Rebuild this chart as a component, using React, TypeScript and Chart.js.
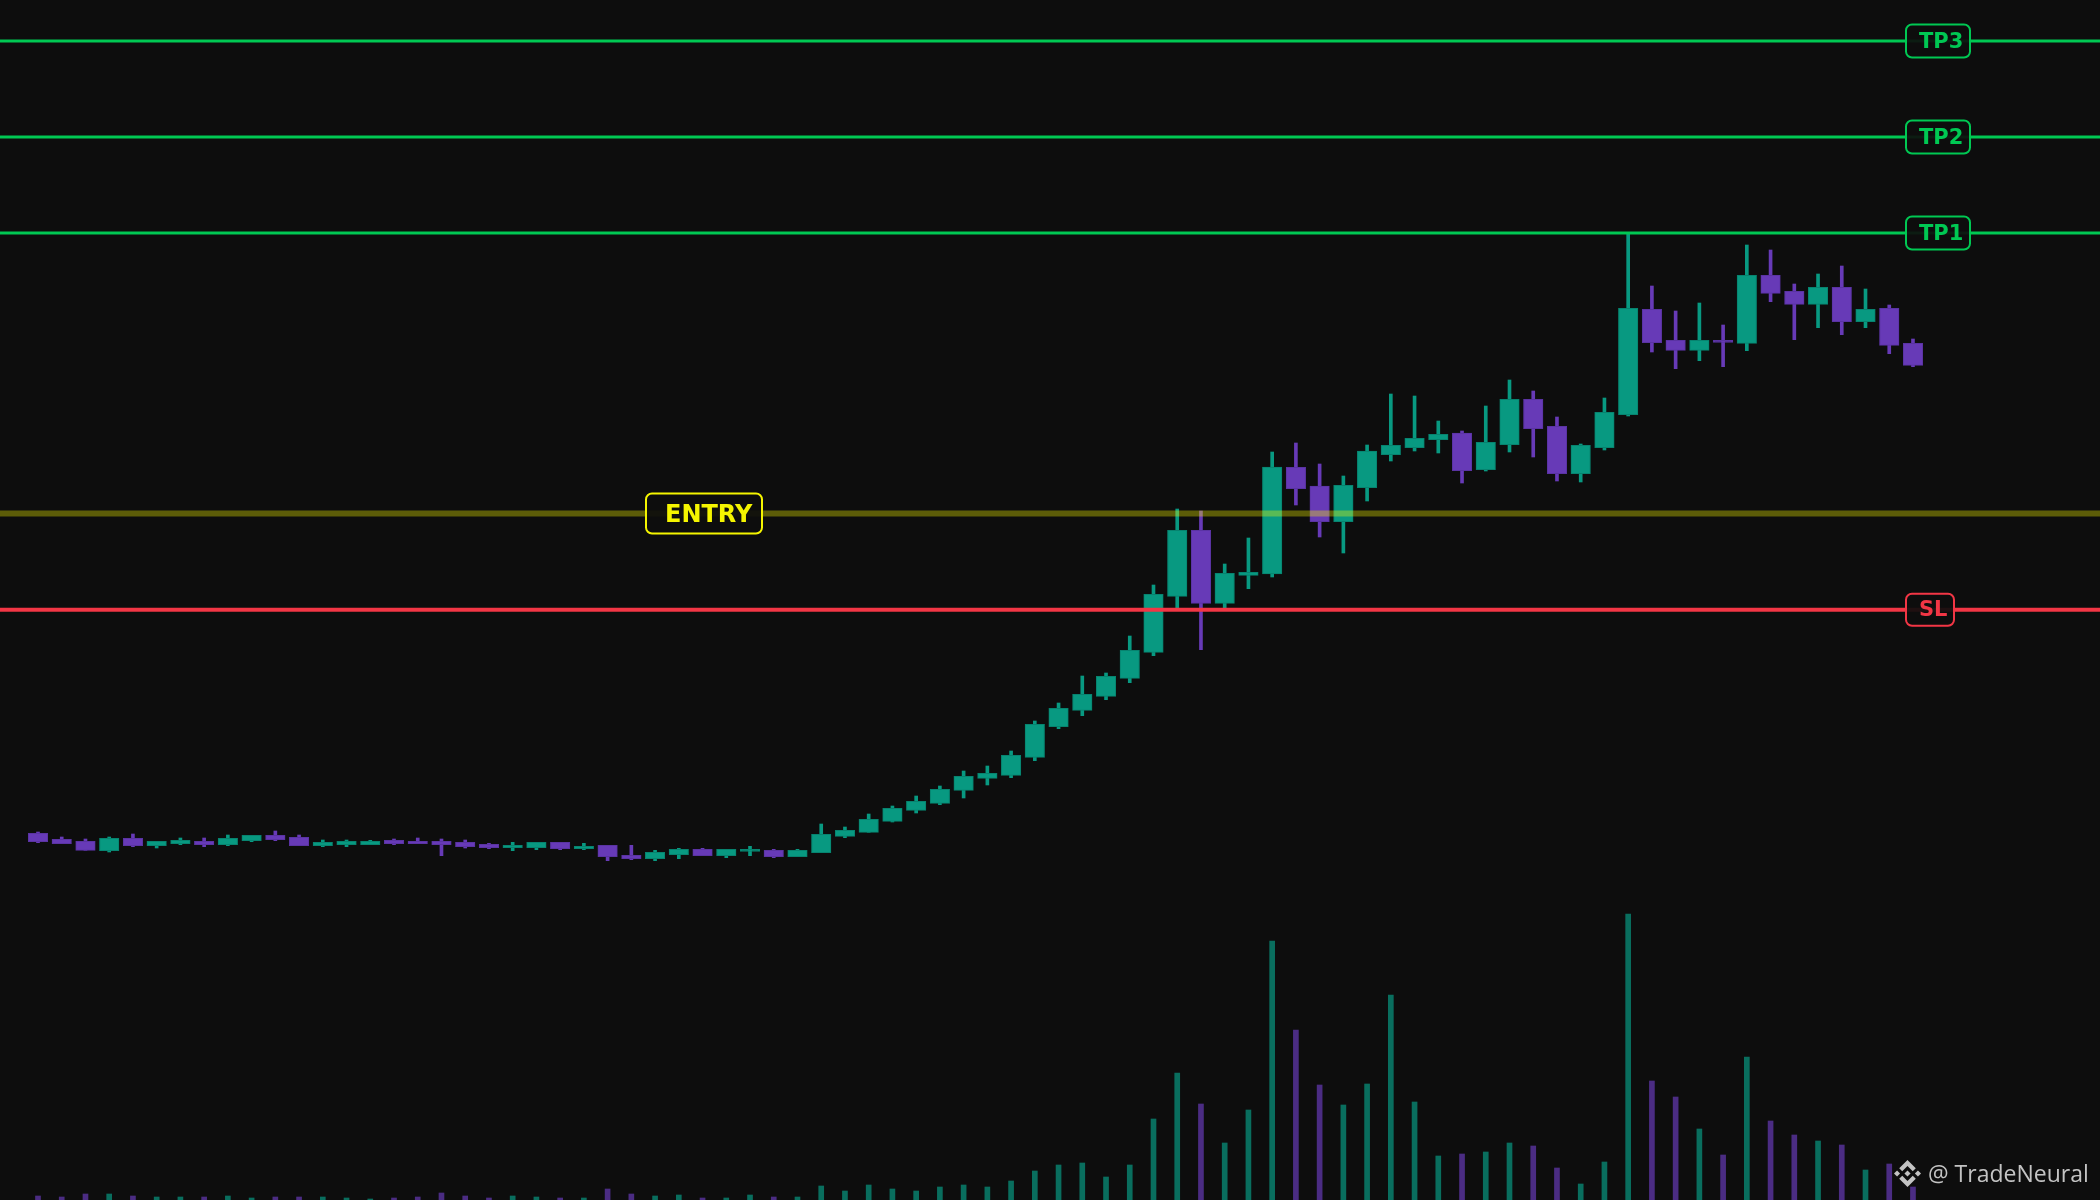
import React, { useEffect, useRef } from 'react';
import { Chart, registerables } from 'chart.js';

Chart.register(...registerables);

// candles (oldest first)
const opens = [
  36.67, 36.07, 35.87, 34.93, 36.17, 35.43, 35.63, 35.87, 35.53, 35.93,
  36.47, 36.27, 35.43, 35.53, 35.53, 35.97, 35.87, 35.87, 35.77, 35.57,
  35.23, 35.23, 35.77, 35.13, 35.47, 34.47, 34.13, 34.53, 35.07, 34.43,
  34.87, 34.97, 34.33, 34.73, 36.37, 36.77, 37.87, 38.97, 39.67, 40.97,
  42.17, 42.47, 44.27, 47.33, 48.97, 50.37, 52.17, 54.77, 60.37, 66.97,
  59.67, 62.47, 62.6, 73.27, 71.4, 67.83, 71.23, 74.53, 75.23, 76.03,
  76.7, 73.03, 75.53, 80.07, 77.37, 72.63, 75.23, 78.53, 89.07, 85.97,
  84.97, 85.97, 85.67, 92.47, 90.87, 89.57, 91.27, 87.83, 89.17, 85.67,
];
const highs = [
  36.8, 36.3, 36.1, 36.3, 36.6, 35.87, 36.2, 36.2, 36.5, 36.47,
  36.9, 36.5, 36.0, 36.0, 35.97, 36.1, 36.2, 36.1, 36.0, 35.67,
  35.77, 35.77, 35.77, 35.67, 35.47, 35.47, 34.97, 35.17, 35.17, 35.07,
  35.37, 35.07, 35.07, 37.6, 37.3, 38.6, 39.4, 40.4, 41.4, 42.9,
  43.4, 44.9, 47.9, 49.7, 52.4, 52.7, 56.4, 61.5, 69.1, 68.9,
  63.6, 66.2, 74.8, 75.7, 73.6, 72.4, 75.5, 80.6, 80.4, 77.9,
  76.9, 79.4, 82.0, 80.9, 78.3, 75.6, 80.2, 96.77, 91.4, 88.9,
  89.7, 87.5, 95.5, 95.0, 91.6, 92.6, 93.4, 91.1, 89.5, 86.1,
];
const lows = [
  35.73, 35.63, 34.97, 34.8, 35.33, 35.2, 35.53, 35.33, 35.43, 35.83,
  35.93, 35.43, 35.33, 35.33, 35.53, 35.53, 35.63, 34.43, 35.2, 35.13,
  34.93, 35.03, 35.03, 35.03, 33.93, 34.03, 33.93, 34.13, 34.43, 34.23,
  34.43, 34.23, 34.33, 34.73, 36.23, 36.77, 37.8, 38.7, 39.53, 40.2,
  41.5, 42.23, 43.93, 47.13, 48.43, 50.03, 51.73, 54.43, 59.23, 55.03,
  59.23, 61.13, 62.3, 69.5, 66.3, 64.7, 69.9, 73.9, 74.9, 74.7,
  71.7, 72.9, 74.8, 74.3, 71.9, 71.8, 75.0, 78.4, 84.8, 83.13,
  83.93, 83.33, 84.93, 89.83, 86.03, 87.23, 86.53, 87.23, 84.63, 83.33,
];
const closes = [
  35.83, 35.63, 34.97, 36.17, 35.43, 35.87, 35.97, 35.53, 36.17, 36.47,
  36.03, 35.43, 35.77, 35.87, 35.87, 35.63, 35.63, 35.53, 35.33, 35.23,
  35.47, 35.77, 35.13, 35.37, 34.33, 34.13, 34.77, 35.07, 34.43, 35.07,
  35.07, 34.33, 34.97, 36.57, 36.97, 38.07, 39.17, 39.87, 41.07, 42.37,
  42.67, 44.47, 47.57, 49.17, 50.57, 52.37, 54.97, 60.57, 66.97, 59.67,
  62.67, 62.77, 73.3, 71.13, 67.83, 71.47, 74.9, 75.47, 76.17, 76.57,
  72.93, 75.77, 80.07, 77.13, 72.63, 75.47, 78.77, 89.17, 85.73, 84.97,
  85.97, 85.77, 92.47, 90.67, 89.57, 91.27, 87.83, 89.07, 85.47, 83.47,
];
const volumes = [
  4, 3, 6, 6, 4, 3, 3, 3, 4, 2,
  3, 3, 3, 2, 1, 2, 3, 7, 4, 2,
  4, 3, 2, 2, 11, 6, 4, 5, 2, 2,
  5, 3, 3, 14, 9, 15, 11, 9, 13, 15,
  13, 19, 29, 35, 37, 23, 35, 81, 127, 96,
  57, 90, 259, 170, 115, 95, 116, 205, 98, 44,
  46, 48, 57, 54, 32, 16, 38, 286, 119, 103,
  71, 45, 143, 79, 65, 59, 55, 30, 36, 13,
];

// trade levels
const levelNames = ['TP3', 'TP2', 'TP1', 'ENTRY', 'SL'];
const levelPrices = [115.9, 106.3, 96.7, 68.65, 59.03];

const BG = '#0d0d0d';
const UP = '#089981';
const DOWN = '#673ab7';
const GREEN = '#00c853';
const YELLOW = '#f5f500';
const RED = '#f23645';

const levelPlugin = {
  id: 'levels',
  beforeDraw(chart: any) {
    const { ctx, width, height } = chart;
    ctx.save();
    ctx.fillStyle = BG;
    ctx.fillRect(0, 0, width, height);
    ctx.restore();
  },
  afterDatasetsDraw(chart: any) {
    const { ctx, chartArea, scales } = chart;
    const y = scales.y;
    ctx.save();
    levelNames.forEach((name, i) => {
      const py = y.getPixelForValue(levelPrices[i]);
      let color = GREEN;
      let lw = 3;
      if (name === 'ENTRY') {
        color = 'rgba(255,255,0,0.33)';
        lw = 6;
      } else if (name === 'SL') {
        color = RED;
        lw = 4;
      }
      ctx.strokeStyle = color;
      ctx.lineWidth = lw;
      ctx.beginPath();
      ctx.moveTo(chartArea.left, py);
      ctx.lineTo(chartArea.right, py);
      ctx.stroke();
    });

    levelNames.forEach((name, i) => {
      const py = y.getPixelForValue(levelPrices[i]);
      let bx = 1906, bw = 64, bh = 33, pad = 13, font = 'bold 21px "DejaVu Sans"', col = GREEN, base = 6.5;
      if (name === 'SL') {
        bw = 48;
        bh = 32;
        col = RED;
      } else if (name === 'ENTRY') {
        bx = 646;
        bw = 116;
        bh = 40;
        pad = 19;
        font = 'bold 24px "DejaVu Sans"';
        col = YELLOW;
        base = 8;
      }
      ctx.beginPath();
      ctx.roundRect(bx, py - bh / 2, bw, bh, 6);
      ctx.fillStyle = 'rgba(13,13,13,0.92)';
      ctx.fill();
      ctx.lineWidth = 2;
      ctx.strokeStyle = col;
      ctx.stroke();
      ctx.fillStyle = col;
      ctx.font = font;
      ctx.textAlign = 'left';
      ctx.textBaseline = 'alphabetic';
      ctx.fillText(name, bx + pad, py + base);
    });
    ctx.restore();
  },
  afterDraw(chart: any) {
    const { ctx } = chart;
    ctx.save();
    // binance-style mark
    const s = 27 / 126.61;
    const ox = 1894;
    const oy = 1160;
    const shapes = [
      [38.73, 53.2, 63.3, 28.64, 87.89, 53.22, 102.19, 38.92, 63.3, 0, 24.43, 38.9],
      [0, 63.31, 14.3, 49.01, 28.6, 63.31, 14.3, 77.61],
      [48.99, 63.31, 63.31, 48.99, 77.62, 63.31, 63.31, 77.62],
      [98.01, 63.31, 112.31, 49.01, 126.61, 63.31, 112.31, 77.61],
      [87.89, 73.39, 63.3, 97.97, 38.73, 73.4, 24.41, 87.68, 63.3, 126.61, 102.19, 87.7],
    ];
    ctx.fillStyle = 'rgba(215,215,215,0.9)';
    shapes.forEach((pts) => {
      ctx.beginPath();
      for (let k = 0; k < pts.length; k += 2) {
        const px = ox + pts[k] * s;
        const py = oy + pts[k + 1] * s;
        if (k === 0) ctx.moveTo(px, py);
        else ctx.lineTo(px, py);
      }
      ctx.closePath();
      ctx.fill();
    });
    ctx.font = '23px "Open Sans"';
    ctx.textAlign = 'left';
    ctx.textBaseline = 'alphabetic';
    ctx.fillText('@ TradeNeural', 1928, 1182);
    ctx.restore();
  },
};

const App: React.FC = () => {
  const chartRef = useRef<HTMLCanvasElement>(null);

  useEffect(() => {
    document.body.style.margin = '0';
    document.body.style.background = BG;
    if (!chartRef.current) return;
    const ctx = chartRef.current.getContext('2d');
    if (!ctx) return;

    const idx = opens.map((_, i) => i);
    const isUp = idx.map((i) => closes[i] >= opens[i]);

    const myChart = new Chart(ctx, {
      type: 'bar',
      data: {
        datasets: [
          {
            label: 'body',
            data: idx.map((i) => ({ x: i, y: [opens[i], closes[i]] })) as any,
            backgroundColor: isUp.map((u) => (u ? UP : DOWN)),
            borderColor: isUp.map((u) => (u ? '#07836f' : '#5a33a3')),
            borderWidth: 1,
            borderSkipped: false,
            barThickness: 19.5,
            grouped: false,
            order: 0,
            yAxisID: 'y',
          },
          {
            label: 'wick',
            data: idx.map((i) => ({ x: i, y: [lows[i], highs[i]] })) as any,
            backgroundColor: isUp.map((u) => (u ? UP : DOWN)),
            borderWidth: 0,
            barThickness: 3,
            grouped: false,
            order: 1,
            yAxisID: 'y',
          },
          {
            label: 'volume',
            data: idx.map((i) => ({ x: i, y: volumes[i] })) as any,
            backgroundColor: isUp.map((u) => (u ? 'rgba(8,153,129,0.7)' : 'rgba(103,58,183,0.7)')),
            borderWidth: 0,
            barThickness: 5,
            grouped: false,
            order: 2,
            yAxisID: 'yv',
          },
        ],
      },
      options: {
        animation: false,
        responsive: true,
        maintainAspectRatio: false,
        layout: { padding: 0 },
        plugins: {
          legend: { display: false },
          tooltip: { enabled: false },
        },
        scales: {
          x: {
            type: 'linear',
            min: -1.601,
            max: 86.88,
            offset: false,
            display: false,
          },
          y: {
            type: 'linear',
            min: 0,
            max: 120,
            display: false,
          },
          yv: {
            type: 'linear',
            min: 0,
            max: 1200,
            display: false,
          },
        },
      },
      plugins: [levelPlugin],
    });

    return () => {
      myChart.destroy();
    };
  }, []);

  return (
    <div style={{ width: 2100, height: 1200, background: BG, position: 'relative' }}>
      <canvas ref={chartRef}></canvas>
    </div>
  );
};

export default App;
